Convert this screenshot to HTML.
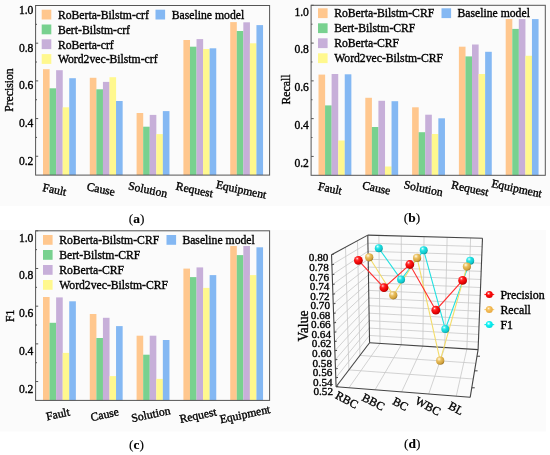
<!DOCTYPE html>
<html><head><meta charset="utf-8"><style>
html,body{margin:0;padding:0;background:#fff;}
svg{display:block;}
text{stroke:#000;stroke-width:0.35px;paint-order:stroke;}
</style></head><body>
<svg width="550" height="455" viewBox="0 0 550 455">
<rect x="0" y="0" width="550" height="455" fill="#fff"/>
<rect x="0" y="0" width="550" height="206" fill="#fbfbfb"/>
<rect x="0" y="230" width="546" height="201.5" fill="#fbfbfb"/>
<rect x="43" y="69.2" width="6.62" height="105.9" fill="#FFC78E"/>
<rect x="49.56" y="88.3" width="6.62" height="86.8" fill="#78D18F"/>
<rect x="56.12" y="70.2" width="6.62" height="104.9" fill="#C7AFD9"/>
<rect x="62.68" y="107.3" width="6.62" height="67.8" fill="#FFF88E"/>
<rect x="69.24" y="78.2" width="6.62" height="96.9" fill="#84B8F3"/>
<rect x="89.8" y="77.8" width="6.62" height="97.3" fill="#FFC78E"/>
<rect x="96.36" y="89.3" width="6.62" height="85.8" fill="#78D18F"/>
<rect x="102.92" y="81.9" width="6.62" height="93.2" fill="#C7AFD9"/>
<rect x="109.48" y="77.2" width="6.62" height="97.9" fill="#FFF88E"/>
<rect x="116.04" y="101" width="6.62" height="74.1" fill="#84B8F3"/>
<rect x="136.6" y="113" width="6.62" height="62.1" fill="#FFC78E"/>
<rect x="143.16" y="126.7" width="6.62" height="48.4" fill="#78D18F"/>
<rect x="149.72" y="114.9" width="6.62" height="60.2" fill="#C7AFD9"/>
<rect x="156.28" y="134.1" width="6.62" height="41" fill="#FFF88E"/>
<rect x="162.84" y="111.1" width="6.62" height="64" fill="#84B8F3"/>
<rect x="183.4" y="40" width="6.62" height="135.1" fill="#FFC78E"/>
<rect x="189.96" y="46.7" width="6.62" height="128.4" fill="#78D18F"/>
<rect x="196.52" y="39.1" width="6.62" height="136" fill="#C7AFD9"/>
<rect x="203.08" y="49" width="6.62" height="126.1" fill="#FFF88E"/>
<rect x="209.64" y="48.3" width="6.62" height="126.8" fill="#84B8F3"/>
<rect x="230.2" y="22.1" width="6.62" height="153" fill="#FFC78E"/>
<rect x="236.76" y="31" width="6.62" height="144.1" fill="#78D18F"/>
<rect x="243.32" y="22.3" width="6.62" height="152.8" fill="#C7AFD9"/>
<rect x="249.88" y="43.3" width="6.62" height="131.8" fill="#FFF88E"/>
<rect x="256.44" y="25.1" width="6.62" height="150" fill="#84B8F3"/>
<rect x="35.6" y="5.5" width="234" height="169.6" fill="none" stroke="#555" stroke-width="1"/>
<line x1="35.6" y1="156.26" x2="38.2" y2="156.26" stroke="#555" stroke-width="1"/>
<text x="33.4" y="164.86" font-size="11.6" text-anchor="end" font-family="Liberation Serif, Times New Roman, serif" fill="#000">0.2</text>
<line x1="35.6" y1="137.41" x2="37" y2="137.41" stroke="#555" stroke-width="1"/>
<line x1="35.6" y1="118.57" x2="38.2" y2="118.57" stroke="#555" stroke-width="1"/>
<text x="33.4" y="127.17" font-size="11.6" text-anchor="end" font-family="Liberation Serif, Times New Roman, serif" fill="#000">0.4</text>
<line x1="35.6" y1="99.72" x2="37" y2="99.72" stroke="#555" stroke-width="1"/>
<line x1="35.6" y1="80.88" x2="38.2" y2="80.88" stroke="#555" stroke-width="1"/>
<text x="33.4" y="89.48" font-size="11.6" text-anchor="end" font-family="Liberation Serif, Times New Roman, serif" fill="#000">0.6</text>
<line x1="35.6" y1="62.03" x2="37" y2="62.03" stroke="#555" stroke-width="1"/>
<line x1="35.6" y1="43.19" x2="38.2" y2="43.19" stroke="#555" stroke-width="1"/>
<text x="33.4" y="51.79" font-size="11.6" text-anchor="end" font-family="Liberation Serif, Times New Roman, serif" fill="#000">0.8</text>
<line x1="35.6" y1="24.34" x2="37" y2="24.34" stroke="#555" stroke-width="1"/>
<line x1="35.6" y1="5.5" x2="38.2" y2="5.5" stroke="#555" stroke-width="1"/>
<text x="33.4" y="14.1" font-size="11.6" text-anchor="end" font-family="Liberation Serif, Times New Roman, serif" fill="#000">1.0</text>
<text x="13.5" y="90.1" font-size="11.7" text-anchor="middle" transform="rotate(-90 13.5 90.1)" font-family="Liberation Serif, Times New Roman, serif" fill="#000">Precision</text>
<rect x="41.7" y="9.7" width="9.6" height="9.8" fill="#FFC78E"/>
<text x="57.9" y="19" font-size="11.7" font-family="Liberation Serif, Times New Roman, serif" fill="#000">RoBerta-Bilstm-crf</text>
<rect x="41.7" y="24.5" width="9.6" height="9.8" fill="#78D18F"/>
<text x="57.9" y="33.8" font-size="11.7" font-family="Liberation Serif, Times New Roman, serif" fill="#000">Bert-Bilstm-crf</text>
<rect x="41.7" y="39.3" width="9.6" height="9.8" fill="#C7AFD9"/>
<text x="57.9" y="48.6" font-size="11.7" font-family="Liberation Serif, Times New Roman, serif" fill="#000">RoBerta-crf</text>
<rect x="41.7" y="54.1" width="9.6" height="9.8" fill="#FFF88E"/>
<text x="57.9" y="63.4" font-size="11.7" font-family="Liberation Serif, Times New Roman, serif" fill="#000">Word2vec-Bilstm-crf</text>
<rect x="155.5" y="9.7" width="9.6" height="9.8" fill="#84B8F3"/>
<text x="171.8" y="19" font-size="11.7" font-family="Liberation Serif, Times New Roman, serif" fill="#000">Baseline model</text>
<text x="54.5" y="190" font-size="11.7" text-anchor="middle" dy="0.3em" transform="rotate(12 54.5 190)" font-family="Liberation Serif, Times New Roman, serif" fill="#000">Fault</text>
<text x="100.9" y="189.5" font-size="11.7" text-anchor="middle" dy="0.3em" transform="rotate(12 100.9 189.5)" font-family="Liberation Serif, Times New Roman, serif" fill="#000">Cause</text>
<text x="147.8" y="190" font-size="11.7" text-anchor="middle" dy="0.3em" transform="rotate(12 147.8 190)" font-family="Liberation Serif, Times New Roman, serif" fill="#000">Solution</text>
<text x="194.5" y="190" font-size="11.7" text-anchor="middle" dy="0.3em" transform="rotate(12 194.5 190)" font-family="Liberation Serif, Times New Roman, serif" fill="#000">Request</text>
<text x="241.2" y="190" font-size="11.7" text-anchor="middle" dy="0.3em" transform="rotate(12 241.2 190)" font-family="Liberation Serif, Times New Roman, serif" fill="#000">Equipment</text>
<text x="136.6" y="222.8" font-size="13.4" text-anchor="middle" font-family="Liberation Serif, Times New Roman, serif" fill="#000" style="stroke-width:0.12px">(<tspan font-weight="bold">a</tspan>)</text>
<rect x="318.5" y="74.6" width="6.62" height="100.7" fill="#FFC78E"/>
<rect x="325.06" y="105.4" width="6.62" height="69.9" fill="#78D18F"/>
<rect x="331.62" y="74" width="6.62" height="101.3" fill="#C7AFD9"/>
<rect x="338.18" y="140.5" width="6.62" height="34.8" fill="#FFF88E"/>
<rect x="344.74" y="74.3" width="6.62" height="101" fill="#84B8F3"/>
<rect x="365.3" y="97.8" width="6.62" height="77.5" fill="#FFC78E"/>
<rect x="371.86" y="127" width="6.62" height="48.3" fill="#78D18F"/>
<rect x="378.42" y="100.8" width="6.62" height="74.5" fill="#C7AFD9"/>
<rect x="384.98" y="166.5" width="6.62" height="8.8" fill="#FFF88E"/>
<rect x="391.54" y="101.2" width="6.62" height="74.1" fill="#84B8F3"/>
<rect x="412.1" y="107.3" width="6.62" height="68" fill="#FFC78E"/>
<rect x="418.66" y="132.2" width="6.62" height="43.1" fill="#78D18F"/>
<rect x="425.22" y="114.7" width="6.62" height="60.6" fill="#C7AFD9"/>
<rect x="431.78" y="134" width="6.62" height="41.3" fill="#FFF88E"/>
<rect x="438.34" y="118.3" width="6.62" height="57" fill="#84B8F3"/>
<rect x="458.9" y="46.7" width="6.62" height="128.6" fill="#FFC78E"/>
<rect x="465.46" y="56.4" width="6.62" height="118.9" fill="#78D18F"/>
<rect x="472.02" y="44.5" width="6.62" height="130.8" fill="#C7AFD9"/>
<rect x="478.58" y="74" width="6.62" height="101.3" fill="#FFF88E"/>
<rect x="485.14" y="51.8" width="6.62" height="123.5" fill="#84B8F3"/>
<rect x="505.7" y="19.1" width="6.62" height="156.2" fill="#FFC78E"/>
<rect x="512.26" y="28.9" width="6.62" height="146.4" fill="#78D18F"/>
<rect x="518.82" y="19.1" width="6.62" height="156.2" fill="#C7AFD9"/>
<rect x="525.38" y="55.8" width="6.62" height="119.5" fill="#FFF88E"/>
<rect x="531.94" y="19.1" width="6.62" height="156.2" fill="#84B8F3"/>
<rect x="311.1" y="5.3" width="234.2" height="170" fill="none" stroke="#555" stroke-width="1"/>
<line x1="311.1" y1="156.41" x2="313.7" y2="156.41" stroke="#555" stroke-width="1"/>
<text x="308.9" y="166.61" font-size="11.6" text-anchor="end" font-family="Liberation Serif, Times New Roman, serif" fill="#000">0.2</text>
<line x1="311.1" y1="137.52" x2="312.5" y2="137.52" stroke="#555" stroke-width="1"/>
<line x1="311.1" y1="118.63" x2="313.7" y2="118.63" stroke="#555" stroke-width="1"/>
<text x="308.9" y="128.83" font-size="11.6" text-anchor="end" font-family="Liberation Serif, Times New Roman, serif" fill="#000">0.4</text>
<line x1="311.1" y1="99.74" x2="312.5" y2="99.74" stroke="#555" stroke-width="1"/>
<line x1="311.1" y1="80.86" x2="313.7" y2="80.86" stroke="#555" stroke-width="1"/>
<text x="308.9" y="91.06" font-size="11.6" text-anchor="end" font-family="Liberation Serif, Times New Roman, serif" fill="#000">0.6</text>
<line x1="311.1" y1="61.97" x2="312.5" y2="61.97" stroke="#555" stroke-width="1"/>
<line x1="311.1" y1="43.08" x2="313.7" y2="43.08" stroke="#555" stroke-width="1"/>
<text x="308.9" y="53.28" font-size="11.6" text-anchor="end" font-family="Liberation Serif, Times New Roman, serif" fill="#000">0.8</text>
<line x1="311.1" y1="24.19" x2="312.5" y2="24.19" stroke="#555" stroke-width="1"/>
<line x1="311.1" y1="5.3" x2="313.7" y2="5.3" stroke="#555" stroke-width="1"/>
<text x="308.9" y="15.5" font-size="11.6" text-anchor="end" font-family="Liberation Serif, Times New Roman, serif" fill="#000">1.0</text>
<text x="289.5" y="89.5" font-size="11.7" text-anchor="middle" transform="rotate(-90 289.5 89.5)" font-family="Liberation Serif, Times New Roman, serif" fill="#000">Recall</text>
<rect x="318" y="8.3" width="9.6" height="9.8" fill="#FFC78E"/>
<text x="334.2" y="17.2" font-size="11.7" font-family="Liberation Serif, Times New Roman, serif" fill="#000">RoBerta-Bilstm-CRF</text>
<rect x="318" y="23.3" width="9.6" height="9.8" fill="#78D18F"/>
<text x="334.2" y="32.2" font-size="11.7" font-family="Liberation Serif, Times New Roman, serif" fill="#000">Bert-Bilstm-CRF</text>
<rect x="318" y="38.3" width="9.6" height="9.8" fill="#C7AFD9"/>
<text x="334.2" y="47.2" font-size="11.7" font-family="Liberation Serif, Times New Roman, serif" fill="#000">RoBerta-CRF</text>
<rect x="318" y="53.3" width="9.6" height="9.8" fill="#FFF88E"/>
<text x="334.2" y="62.2" font-size="11.7" font-family="Liberation Serif, Times New Roman, serif" fill="#000">Word2vec-Bilstm-CRF</text>
<rect x="441.5" y="8.3" width="9.6" height="9.8" fill="#84B8F3"/>
<text x="457.5" y="17.2" font-size="11.7" font-family="Liberation Serif, Times New Roman, serif" fill="#000">Baseline model</text>
<text x="330" y="188.8" font-size="11.7" text-anchor="middle" dy="0.3em" transform="rotate(12 330 188.8)" font-family="Liberation Serif, Times New Roman, serif" fill="#000">Fault</text>
<text x="376.4" y="188.3" font-size="11.7" text-anchor="middle" dy="0.3em" transform="rotate(12 376.4 188.3)" font-family="Liberation Serif, Times New Roman, serif" fill="#000">Cause</text>
<text x="423.3" y="188.8" font-size="11.7" text-anchor="middle" dy="0.3em" transform="rotate(12 423.3 188.8)" font-family="Liberation Serif, Times New Roman, serif" fill="#000">Solution</text>
<text x="470" y="188.8" font-size="11.7" text-anchor="middle" dy="0.3em" transform="rotate(12 470 188.8)" font-family="Liberation Serif, Times New Roman, serif" fill="#000">Request</text>
<text x="516.7" y="188.8" font-size="11.7" text-anchor="middle" dy="0.3em" transform="rotate(12 516.7 188.8)" font-family="Liberation Serif, Times New Roman, serif" fill="#000">Equipment</text>
<text x="411.9" y="222.3" font-size="13.4" text-anchor="middle" font-family="Liberation Serif, Times New Roman, serif" fill="#000" style="stroke-width:0.12px">(<tspan font-weight="bold">b</tspan>)</text>
<rect x="43" y="297" width="6.62" height="103.4" fill="#FFC78E"/>
<rect x="49.56" y="322.8" width="6.62" height="77.6" fill="#78D18F"/>
<rect x="56.12" y="297.4" width="6.62" height="103" fill="#C7AFD9"/>
<rect x="62.68" y="352.9" width="6.62" height="47.5" fill="#FFF88E"/>
<rect x="69.24" y="301.3" width="6.62" height="99.1" fill="#84B8F3"/>
<rect x="89.8" y="314" width="6.62" height="86.4" fill="#FFC78E"/>
<rect x="96.36" y="338" width="6.62" height="62.4" fill="#78D18F"/>
<rect x="102.92" y="317.8" width="6.62" height="82.6" fill="#C7AFD9"/>
<rect x="109.48" y="376.1" width="6.62" height="24.3" fill="#FFF88E"/>
<rect x="116.04" y="326.1" width="6.62" height="74.3" fill="#84B8F3"/>
<rect x="136.6" y="335.7" width="6.62" height="64.7" fill="#FFC78E"/>
<rect x="143.16" y="354.7" width="6.62" height="45.7" fill="#78D18F"/>
<rect x="149.72" y="335.7" width="6.62" height="64.7" fill="#C7AFD9"/>
<rect x="156.28" y="378.9" width="6.62" height="21.5" fill="#FFF88E"/>
<rect x="162.84" y="340" width="6.62" height="60.4" fill="#84B8F3"/>
<rect x="183.4" y="268.6" width="6.62" height="131.8" fill="#FFC78E"/>
<rect x="189.96" y="277.1" width="6.62" height="123.3" fill="#78D18F"/>
<rect x="196.52" y="267.4" width="6.62" height="133" fill="#C7AFD9"/>
<rect x="203.08" y="287.9" width="6.62" height="112.5" fill="#FFF88E"/>
<rect x="209.64" y="275.1" width="6.62" height="125.3" fill="#84B8F3"/>
<rect x="230.2" y="246" width="6.62" height="154.4" fill="#FFC78E"/>
<rect x="236.76" y="255.1" width="6.62" height="145.3" fill="#78D18F"/>
<rect x="243.32" y="246" width="6.62" height="154.4" fill="#C7AFD9"/>
<rect x="249.88" y="275.1" width="6.62" height="125.3" fill="#FFF88E"/>
<rect x="256.44" y="247.3" width="6.62" height="153.1" fill="#84B8F3"/>
<rect x="35.6" y="230.8" width="234" height="169.6" fill="none" stroke="#555" stroke-width="1"/>
<line x1="35.6" y1="381.56" x2="38.2" y2="381.56" stroke="#555" stroke-width="1"/>
<text x="33.4" y="392.56" font-size="11.6" text-anchor="end" font-family="Liberation Serif, Times New Roman, serif" fill="#000">0.2</text>
<line x1="35.6" y1="362.71" x2="37" y2="362.71" stroke="#555" stroke-width="1"/>
<line x1="35.6" y1="343.87" x2="38.2" y2="343.87" stroke="#555" stroke-width="1"/>
<text x="33.4" y="354.87" font-size="11.6" text-anchor="end" font-family="Liberation Serif, Times New Roman, serif" fill="#000">0.4</text>
<line x1="35.6" y1="325.02" x2="37" y2="325.02" stroke="#555" stroke-width="1"/>
<line x1="35.6" y1="306.18" x2="38.2" y2="306.18" stroke="#555" stroke-width="1"/>
<text x="33.4" y="317.18" font-size="11.6" text-anchor="end" font-family="Liberation Serif, Times New Roman, serif" fill="#000">0.6</text>
<line x1="35.6" y1="287.33" x2="37" y2="287.33" stroke="#555" stroke-width="1"/>
<line x1="35.6" y1="268.49" x2="38.2" y2="268.49" stroke="#555" stroke-width="1"/>
<text x="33.4" y="279.49" font-size="11.6" text-anchor="end" font-family="Liberation Serif, Times New Roman, serif" fill="#000">0.8</text>
<line x1="35.6" y1="249.64" x2="37" y2="249.64" stroke="#555" stroke-width="1"/>
<line x1="35.6" y1="230.8" x2="38.2" y2="230.8" stroke="#555" stroke-width="1"/>
<text x="33.4" y="241.8" font-size="11.6" text-anchor="end" font-family="Liberation Serif, Times New Roman, serif" fill="#000">1.0</text>
<text x="14" y="315.8" font-size="11.7" text-anchor="middle" transform="rotate(-90 14 315.8)" font-family="Liberation Serif, Times New Roman, serif" fill="#000">F1</text>
<rect x="43" y="235" width="9.6" height="9.8" fill="#FFC78E"/>
<text x="59.2" y="243.9" font-size="11.7" font-family="Liberation Serif, Times New Roman, serif" fill="#000">RoBerta-Bilstm-CRF</text>
<rect x="43" y="250" width="9.6" height="9.8" fill="#78D18F"/>
<text x="59.2" y="258.9" font-size="11.7" font-family="Liberation Serif, Times New Roman, serif" fill="#000">Bert-Bilstm-CRF</text>
<rect x="43" y="265" width="9.6" height="9.8" fill="#C7AFD9"/>
<text x="59.2" y="273.9" font-size="11.7" font-family="Liberation Serif, Times New Roman, serif" fill="#000">RoBerta-CRF</text>
<rect x="43" y="280" width="9.6" height="9.8" fill="#FFF88E"/>
<text x="59.2" y="288.9" font-size="11.7" font-family="Liberation Serif, Times New Roman, serif" fill="#000">Word2vec-Bilstm-CRF</text>
<rect x="166.5" y="235" width="9.6" height="9.8" fill="#84B8F3"/>
<text x="182.4" y="243.9" font-size="11.7" font-family="Liberation Serif, Times New Roman, serif" fill="#000">Baseline model</text>
<text x="58" y="414.5" font-size="11.7" text-anchor="middle" dy="0.3em" transform="rotate(-12 58 414.5)" font-family="Liberation Serif, Times New Roman, serif" fill="#000">Fault</text>
<text x="104.7" y="414.8" font-size="11.7" text-anchor="middle" dy="0.3em" transform="rotate(-12 104.7 414.8)" font-family="Liberation Serif, Times New Roman, serif" fill="#000">Cause</text>
<text x="150.9" y="414.6" font-size="11.7" text-anchor="middle" dy="0.3em" transform="rotate(-12 150.9 414.6)" font-family="Liberation Serif, Times New Roman, serif" fill="#000">Solution</text>
<text x="198.1" y="415.7" font-size="11.7" text-anchor="middle" dy="0.3em" transform="rotate(-12 198.1 415.7)" font-family="Liberation Serif, Times New Roman, serif" fill="#000">Request</text>
<text x="245" y="414.6" font-size="11.7" text-anchor="middle" dy="0.3em" transform="rotate(-12 245 414.6)" font-family="Liberation Serif, Times New Roman, serif" fill="#000">Equipment</text>
<text x="136.4" y="448.5" font-size="13.4" text-anchor="middle" font-family="Liberation Serif, Times New Roman, serif" fill="#000" style="stroke-width:0.12px">(<tspan font-weight="bold">c</tspan>)</text>
<polyline points="335.79,377.86 369.44,335.46" fill="none" stroke="#c8c8c8" stroke-width="0.8"/>
<polyline points="335.48,368.92 369.32,328.09" fill="none" stroke="#c8c8c8" stroke-width="0.8"/>
<polyline points="335.17,359.89 369.19,320.67" fill="none" stroke="#c8c8c8" stroke-width="0.8"/>
<polyline points="334.85,350.77 369.07,313.19" fill="none" stroke="#c8c8c8" stroke-width="0.8"/>
<polyline points="334.53,341.57 368.95,305.65" fill="none" stroke="#c8c8c8" stroke-width="0.8"/>
<polyline points="334.21,332.28 368.82,298.05" fill="none" stroke="#c8c8c8" stroke-width="0.8"/>
<polyline points="333.89,322.90 368.69,290.40" fill="none" stroke="#c8c8c8" stroke-width="0.8"/>
<polyline points="333.56,313.43 368.57,282.68" fill="none" stroke="#c8c8c8" stroke-width="0.8"/>
<polyline points="333.24,303.87 368.44,274.91" fill="none" stroke="#c8c8c8" stroke-width="0.8"/>
<polyline points="332.90,294.22 368.31,267.08" fill="none" stroke="#c8c8c8" stroke-width="0.8"/>
<polyline points="332.57,284.47 368.18,259.18" fill="none" stroke="#c8c8c8" stroke-width="0.8"/>
<polyline points="332.23,274.63 368.05,251.23" fill="none" stroke="#c8c8c8" stroke-width="0.8"/>
<polyline points="331.88,264.69 367.91,243.21" fill="none" stroke="#c8c8c8" stroke-width="0.8"/>
<polyline points="348.89,369.92 345.51,247.12" fill="none" stroke="#c8c8c8" stroke-width="0.8"/>
<polyline points="359.93,355.42 357.46,240.69" fill="none" stroke="#c8c8c8" stroke-width="0.8"/>
<polyline points="369.44,335.46 478.39,342.10" fill="none" stroke="#c8c8c8" stroke-width="0.8"/>
<polyline points="369.32,328.09 478.69,334.48" fill="none" stroke="#c8c8c8" stroke-width="0.8"/>
<polyline points="369.19,320.67 478.99,326.81" fill="none" stroke="#c8c8c8" stroke-width="0.8"/>
<polyline points="369.07,313.19 479.29,319.08" fill="none" stroke="#c8c8c8" stroke-width="0.8"/>
<polyline points="368.95,305.65 479.60,311.28" fill="none" stroke="#c8c8c8" stroke-width="0.8"/>
<polyline points="368.82,298.05 479.91,303.42" fill="none" stroke="#c8c8c8" stroke-width="0.8"/>
<polyline points="368.69,290.40 480.22,295.50" fill="none" stroke="#c8c8c8" stroke-width="0.8"/>
<polyline points="368.57,282.68 480.53,287.52" fill="none" stroke="#c8c8c8" stroke-width="0.8"/>
<polyline points="368.44,274.91 480.85,279.47" fill="none" stroke="#c8c8c8" stroke-width="0.8"/>
<polyline points="368.31,267.08 481.17,271.36" fill="none" stroke="#c8c8c8" stroke-width="0.8"/>
<polyline points="368.18,259.18 481.49,263.18" fill="none" stroke="#c8c8c8" stroke-width="0.8"/>
<polyline points="368.05,251.23 481.81,254.94" fill="none" stroke="#c8c8c8" stroke-width="0.8"/>
<polyline points="367.91,243.21 482.14,246.63" fill="none" stroke="#c8c8c8" stroke-width="0.8"/>
<polyline points="380.07,343.44 378.86,235.43" fill="none" stroke="#c8c8c8" stroke-width="0.8"/>
<polyline points="401.31,344.79 401.28,236.04" fill="none" stroke="#c8c8c8" stroke-width="0.8"/>
<polyline points="422.85,346.15 424.04,236.66" fill="none" stroke="#c8c8c8" stroke-width="0.8"/>
<polyline points="444.71,347.54 447.14,237.29" fill="none" stroke="#c8c8c8" stroke-width="0.8"/>
<polyline points="466.88,348.94 470.60,237.92" fill="none" stroke="#c8c8c8" stroke-width="0.8"/>
<polyline points="348.89,369.92 473.22,378.99" fill="none" stroke="#c8c8c8" stroke-width="0.8"/>
<polyline points="359.93,355.42 475.83,363.28" fill="none" stroke="#c8c8c8" stroke-width="0.8"/>
<polyline points="348.97,387.74 380.07,343.44" fill="none" stroke="#c8c8c8" stroke-width="0.8"/>
<polyline points="375.07,389.80 401.31,344.79" fill="none" stroke="#c8c8c8" stroke-width="0.8"/>
<polyline points="401.64,391.90 422.85,346.15" fill="none" stroke="#c8c8c8" stroke-width="0.8"/>
<polyline points="428.68,394.04 444.71,347.54" fill="none" stroke="#c8c8c8" stroke-width="0.8"/>
<polyline points="456.22,396.21 466.88,348.94" fill="none" stroke="#c8c8c8" stroke-width="0.8"/>
<polyline points="336.09,386.73 331.54,254.65" fill="none" stroke="#444" stroke-width="1.1"/>
<polyline points="331.54,254.65 367.78,235.13" fill="none" stroke="#444" stroke-width="1.1"/>
<polyline points="367.78,235.13 482.47,238.25" fill="none" stroke="#444" stroke-width="1.1"/>
<polyline points="482.47,238.25 478.09,349.65" fill="none" stroke="#444" stroke-width="1.1"/>
<polyline points="369.56,342.78 478.09,349.65" fill="none" stroke="#444" stroke-width="1.1"/>
<polyline points="369.56,342.78 367.78,235.13" fill="none" stroke="#444" stroke-width="1.1"/>
<polyline points="336.09,386.73 369.56,342.78" fill="none" stroke="#444" stroke-width="1.1"/>
<polyline points="336.09,386.73 470.17,397.32" fill="none" stroke="#444" stroke-width="1.1"/>
<polyline points="470.17,397.32 478.09,349.65" fill="none" stroke="#444" stroke-width="1.1"/>
<line x1="336.09" y1="386.73" x2="338.29" y2="386.33" stroke="#444" stroke-width="1"/>
<text x="328.40" y="261.00" font-size="11.2" text-anchor="end" font-family="Liberation Serif, Times New Roman, serif" fill="#000">0.80</text>
<line x1="335.79" y1="377.86" x2="337.99" y2="377.46" stroke="#444" stroke-width="1"/>
<text x="328.73" y="271.32" font-size="11.2" text-anchor="end" font-family="Liberation Serif, Times New Roman, serif" fill="#000">0.78</text>
<line x1="335.48" y1="368.92" x2="337.68" y2="368.52" stroke="#444" stroke-width="1"/>
<text x="329.06" y="280.84" font-size="11.2" text-anchor="end" font-family="Liberation Serif, Times New Roman, serif" fill="#000">0.76</text>
<line x1="335.17" y1="359.89" x2="337.37" y2="359.49" stroke="#444" stroke-width="1"/>
<text x="329.39" y="290.36" font-size="11.2" text-anchor="end" font-family="Liberation Serif, Times New Roman, serif" fill="#000">0.74</text>
<line x1="334.85" y1="350.77" x2="337.05" y2="350.37" stroke="#444" stroke-width="1"/>
<text x="329.71" y="299.88" font-size="11.2" text-anchor="end" font-family="Liberation Serif, Times New Roman, serif" fill="#000">0.72</text>
<line x1="334.53" y1="341.57" x2="336.73" y2="341.17" stroke="#444" stroke-width="1"/>
<text x="330.04" y="309.40" font-size="11.2" text-anchor="end" font-family="Liberation Serif, Times New Roman, serif" fill="#000">0.70</text>
<line x1="334.21" y1="332.28" x2="336.41" y2="331.88" stroke="#444" stroke-width="1"/>
<text x="330.37" y="318.92" font-size="11.2" text-anchor="end" font-family="Liberation Serif, Times New Roman, serif" fill="#000">0.68</text>
<line x1="333.89" y1="322.90" x2="336.09" y2="322.50" stroke="#444" stroke-width="1"/>
<text x="330.70" y="328.44" font-size="11.2" text-anchor="end" font-family="Liberation Serif, Times New Roman, serif" fill="#000">0.66</text>
<line x1="333.56" y1="313.43" x2="335.76" y2="313.03" stroke="#444" stroke-width="1"/>
<text x="331.03" y="337.96" font-size="11.2" text-anchor="end" font-family="Liberation Serif, Times New Roman, serif" fill="#000">0.64</text>
<line x1="333.24" y1="303.87" x2="335.44" y2="303.47" stroke="#444" stroke-width="1"/>
<text x="331.36" y="347.48" font-size="11.2" text-anchor="end" font-family="Liberation Serif, Times New Roman, serif" fill="#000">0.62</text>
<line x1="332.90" y1="294.22" x2="335.10" y2="293.82" stroke="#444" stroke-width="1"/>
<text x="331.69" y="357.00" font-size="11.2" text-anchor="end" font-family="Liberation Serif, Times New Roman, serif" fill="#000">0.60</text>
<line x1="332.57" y1="284.47" x2="334.77" y2="284.07" stroke="#444" stroke-width="1"/>
<text x="332.01" y="366.52" font-size="11.2" text-anchor="end" font-family="Liberation Serif, Times New Roman, serif" fill="#000">0.58</text>
<line x1="332.23" y1="274.63" x2="334.43" y2="274.23" stroke="#444" stroke-width="1"/>
<text x="332.34" y="376.04" font-size="11.2" text-anchor="end" font-family="Liberation Serif, Times New Roman, serif" fill="#000">0.56</text>
<line x1="331.88" y1="264.69" x2="334.08" y2="264.29" stroke="#444" stroke-width="1"/>
<text x="332.67" y="385.56" font-size="11.2" text-anchor="end" font-family="Liberation Serif, Times New Roman, serif" fill="#000">0.54</text>
<line x1="331.54" y1="254.65" x2="333.74" y2="254.25" stroke="#444" stroke-width="1"/>
<text x="333.00" y="395.08" font-size="11.2" text-anchor="end" font-family="Liberation Serif, Times New Roman, serif" fill="#000">0.52</text>
<line x1="471.76" y1="387.79" x2="474.76" y2="387.79" stroke="#444" stroke-width="1"/>
<line x1="474.57" y1="370.84" x2="477.57" y2="370.84" stroke="#444" stroke-width="1"/>
<line x1="477.00" y1="356.23" x2="480.00" y2="356.23" stroke="#444" stroke-width="1"/>
<text x="346.77" y="399.94" font-size="11.8" text-anchor="middle" dy="0.33em" transform="rotate(28 346.77 399.94)" font-family="Liberation Serif, Times New Roman, serif" fill="#000">RBC</text>
<text x="373.37" y="402.00" font-size="11.8" text-anchor="middle" dy="0.33em" transform="rotate(28 373.37 402.00)" font-family="Liberation Serif, Times New Roman, serif" fill="#000">BBC</text>
<text x="400.44" y="404.10" font-size="11.8" text-anchor="middle" dy="0.33em" transform="rotate(28 400.44 404.10)" font-family="Liberation Serif, Times New Roman, serif" fill="#000">BC</text>
<text x="427.98" y="406.24" font-size="11.8" text-anchor="middle" dy="0.33em" transform="rotate(28 427.98 406.24)" font-family="Liberation Serif, Times New Roman, serif" fill="#000">WBC</text>
<text x="456.02" y="408.41" font-size="11.8" text-anchor="middle" dy="0.33em" transform="rotate(28 456.02 408.41)" font-family="Liberation Serif, Times New Roman, serif" fill="#000">BL</text>
<text x="308.1" y="326" font-size="13.6" text-anchor="middle" transform="rotate(-90 308.1 326)" font-family="Liberation Serif, Times New Roman, serif" fill="#000">Value</text>
<defs><radialGradient id="gr" cx="0.36" cy="0.3" r="0.72"><stop offset="0" stop-color="#fff0f0"/><stop offset="0.18" stop-color="#ff5050"/><stop offset="0.35" stop-color="#ff1a1a"/><stop offset="0.8" stop-color="#e00000"/><stop offset="1" stop-color="#a00000"/></radialGradient><radialGradient id="gg" cx="0.36" cy="0.3" r="0.72"><stop offset="0" stop-color="#fffdf4"/><stop offset="0.2" stop-color="#f5da96"/><stop offset="0.4" stop-color="#e8bd5c"/><stop offset="0.8" stop-color="#d2a23c"/><stop offset="1" stop-color="#9c7424"/></radialGradient><radialGradient id="gc" cx="0.36" cy="0.3" r="0.72"><stop offset="0" stop-color="#f0ffff"/><stop offset="0.2" stop-color="#60f0f0"/><stop offset="0.4" stop-color="#1ee0e2"/><stop offset="0.8" stop-color="#10c8cc"/><stop offset="1" stop-color="#0b9599"/></radialGradient><radialGradient id="lr" cx="0.4" cy="0.35" r="0.65"><stop offset="0" stop-color="#ffffff"/><stop offset="0.22" stop-color="#ff6060"/><stop offset="0.45" stop-color="#ff0a0a"/><stop offset="1" stop-color="#e00000"/></radialGradient><radialGradient id="lg" cx="0.4" cy="0.35" r="0.65"><stop offset="0" stop-color="#fff4dc"/><stop offset="0.25" stop-color="#f8cc78"/><stop offset="0.5" stop-color="#f3bb55"/><stop offset="1" stop-color="#e8aa45"/></radialGradient><radialGradient id="lc" cx="0.4" cy="0.35" r="0.65"><stop offset="0" stop-color="#ffffff"/><stop offset="0.22" stop-color="#70ffff"/><stop offset="0.45" stop-color="#10f0f2"/><stop offset="1" stop-color="#00dcdf"/></radialGradient></defs>
<polyline points="378.80,248.20 401.05,279.60 423.70,250.30 445.30,329.10 470.20,260.70" fill="none" stroke="#22e0e0" stroke-width="1.1"/>
<polyline points="369.20,257.30 393.25,295.30 417.10,257.90 440.20,360.70 466.90,266.60" fill="none" stroke="#f3dc6a" stroke-width="1.1"/>
<polyline points="358.40,260.40 384.00,287.70 409.80,264.50 435.80,310.20 462.60,280.40" fill="none" stroke="#ff3030" stroke-width="1.1"/>
<circle cx="378.80" cy="248.20" r="4.0" fill="url(#gc)"/>
<circle cx="401.05" cy="279.60" r="4.0" fill="url(#gc)"/>
<circle cx="423.70" cy="250.30" r="4.0" fill="url(#gc)"/>
<circle cx="445.30" cy="329.10" r="4.0" fill="url(#gc)"/>
<circle cx="470.20" cy="260.70" r="4.0" fill="url(#gc)"/>
<circle cx="369.20" cy="257.30" r="4.1" fill="url(#gg)"/>
<circle cx="393.25" cy="295.30" r="4.1" fill="url(#gg)"/>
<circle cx="417.10" cy="257.90" r="4.1" fill="url(#gg)"/>
<circle cx="440.20" cy="360.70" r="4.1" fill="url(#gg)"/>
<circle cx="466.90" cy="266.60" r="4.1" fill="url(#gg)"/>
<circle cx="358.40" cy="260.40" r="4.4" fill="url(#gr)"/>
<circle cx="384.00" cy="287.70" r="4.4" fill="url(#gr)"/>
<circle cx="409.80" cy="264.50" r="4.4" fill="url(#gr)"/>
<circle cx="435.80" cy="310.20" r="4.4" fill="url(#gr)"/>
<circle cx="462.60" cy="280.40" r="4.4" fill="url(#gr)"/>
<line x1="484.4" y1="294.50" x2="494.2" y2="294.50" stroke="#ff2020" stroke-width="1.2"/>
<circle cx="489.3" cy="294.50" r="3.5" fill="url(#lr)"/>
<text x="500.4" y="298.50" font-size="11.9" font-family="Liberation Serif, Times New Roman, serif" fill="#000">Precision</text>
<line x1="484.4" y1="309.55" x2="494.2" y2="309.55" stroke="#f8d070" stroke-width="1.2"/>
<circle cx="489.3" cy="309.55" r="3.5" fill="url(#lg)"/>
<text x="500.4" y="313.55" font-size="11.9" font-family="Liberation Serif, Times New Roman, serif" fill="#000">Recall</text>
<line x1="484.4" y1="324.60" x2="494.2" y2="324.60" stroke="#22e8e8" stroke-width="1.2"/>
<circle cx="489.3" cy="324.60" r="3.5" fill="url(#lc)"/>
<text x="500.4" y="328.60" font-size="11.9" font-family="Liberation Serif, Times New Roman, serif" fill="#000">F1</text>
<text x="412.2" y="448" font-size="13.4" text-anchor="middle" font-family="Liberation Serif, Times New Roman, serif" fill="#000" style="stroke-width:0.12px">(<tspan font-weight="bold">d</tspan>)</text>
</svg>
</body></html>
